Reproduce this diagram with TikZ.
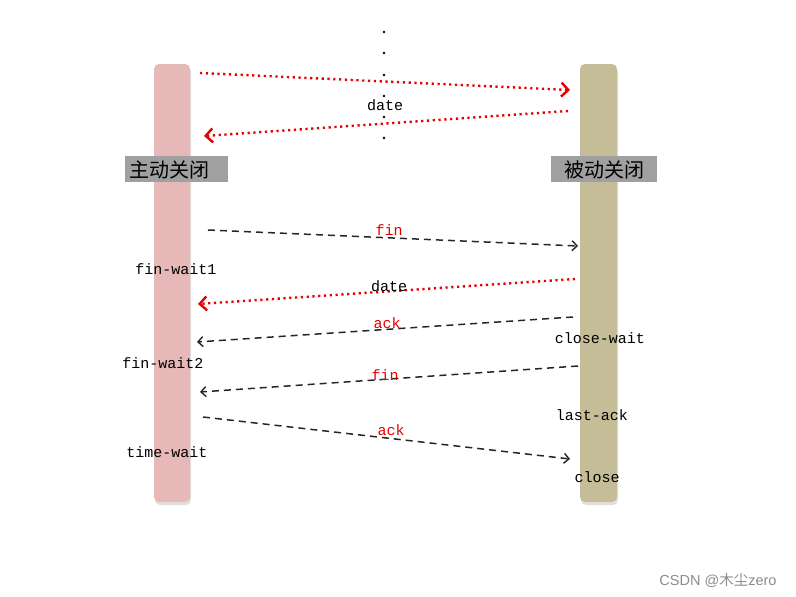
\documentclass[tikz,border=0pt]{standalone}
\usepackage{fontspec}
\setmainfont{Liberation Mono}
\newfontfamily\cjk{Noto Sans CJK SC}
\newfontfamily\wm{Liberation Sans}
\usetikzlibrary{arrows.meta}
\definecolor{barL}{RGB}{230,184,183}
\definecolor{barR}{RGB}{196,189,151}
\definecolor{tagG}{RGB}{160,160,160}
\definecolor{msgred}{RGB}{230,0,0}
\tikzset{
  bar/.style={rounded corners=5pt, inner sep=0pt, minimum width=36pt, minimum height=438pt},
  tag/.style={fill=tagG, inner sep=0pt, minimum height=26pt},
  tagtext/.style={inner sep=0pt, font=\cjk\fontsize{20}{20}\selectfont},
  state/.style={font=\fontsize{15}{15}\selectfont, inner sep=0pt},
  lbl/.style={font=\fontsize{15}{15}\selectfont, inner sep=0pt, text=msgred},
  datamsg/.style={draw=msgred, line width=2.4pt, dash pattern=on 2.2pt off 3.6pt, -{Straight Barb[length=7pt,width=14pt,line width=2.4pt]}},
  ctrlmsg/.style={draw=black!85, line width=1.5pt, dash pattern=on 7pt off 5pt, -{Straight Barb[length=5pt,width=10pt,line width=1.4pt]}},
  dot/.style={circle, fill=black, inner sep=0pt, minimum size=2.6pt}
}
\begin{document}
\begin{tikzpicture}[x=1pt,y=-1pt]
\useasboundingbox (0,0) rectangle (796,597);
% bar shadows
\fill[black!12, rounded corners=5pt] (155,67) rectangle (191,505);
\fill[black!12, rounded corners=5pt] (581,67) rectangle (618,505);
\node[bar, fill=barL] (L) at (172,283) {};
\node[bar, fill=barR, minimum width=37pt] (R) at (598.5,283) {};
% tags
\node[tag, minimum width=103pt] (tL) at (176.5,169) {};
\node[tagtext] (tLt) at (169.5,169.5) {主动关闭};
\node[tag, minimum width=106pt] (tR) at (604,169) {};
\node[tagtext] (tRt) at (604.5,169.5) {被动关闭};
% vertical dots
\foreach \i/\yy in {1/32,2/53,3/75,4/96,5/117,6/138}
  \node[dot] (d\i) at (384,\yy) {};
\node[state] (date0) at (385,105) {date};
% coordinates
\coordinate (a1s) at (200,73);  \coordinate (a1e) at (570,90);
\coordinate (a2s) at (568,111); \coordinate (a2e) at (204,136);
\coordinate (a3s) at (208,230); \coordinate (a3e) at (578,246);
\coordinate (a4s) at (575,279); \coordinate (a4e) at (198,304);
\coordinate (a5s) at (573,317); \coordinate (a5e) at (197,342);
\coordinate (a6s) at (578,366); \coordinate (a6e) at (200,392);
\coordinate (a7s) at (203,417); \coordinate (a7e) at (570,459);
% arrows
\draw[datamsg] (a1s) -- (a1e);
\draw[datamsg] (a2s) -- (a2e);
\draw[ctrlmsg] (a3s) -- (a3e);
\draw[datamsg] (a4s) -- (a4e);
\draw[ctrlmsg] (a5s) -- (a5e);
\draw[ctrlmsg] (a6s) -- (a6e);
\draw[ctrlmsg] (a7s) -- (a7e);
% message labels
\node[lbl] (l3) at (389,230) {fin};
\node[state] (l4) at (389,286) {date};
\node[lbl] (l5) at (387,323) {ack};
\node[lbl] (l6) at (385,375) {fin};
\node[lbl] (l7) at (391,430) {ack};
% states
\node[state] (s1) at (176,269) {fin-wait1};
\node[state] (s2) at (163,363) {fin-wait2};
\node[state] (s3) at (167,452) {time-wait};
\node[state] (s4) at (600,338) {close-wait};
\node[state] (s5) at (592,415) {last-ack};
\node[state] (s6) at (597,477) {close};
% watermark
\node[font=\wm\fontsize{14.5}{14.5}\selectfont, text=black!45, inner sep=0pt] (wm) at (718,580) {CSDN @\cjk 木尘\wm zero};
\end{tikzpicture}
\end{document}
